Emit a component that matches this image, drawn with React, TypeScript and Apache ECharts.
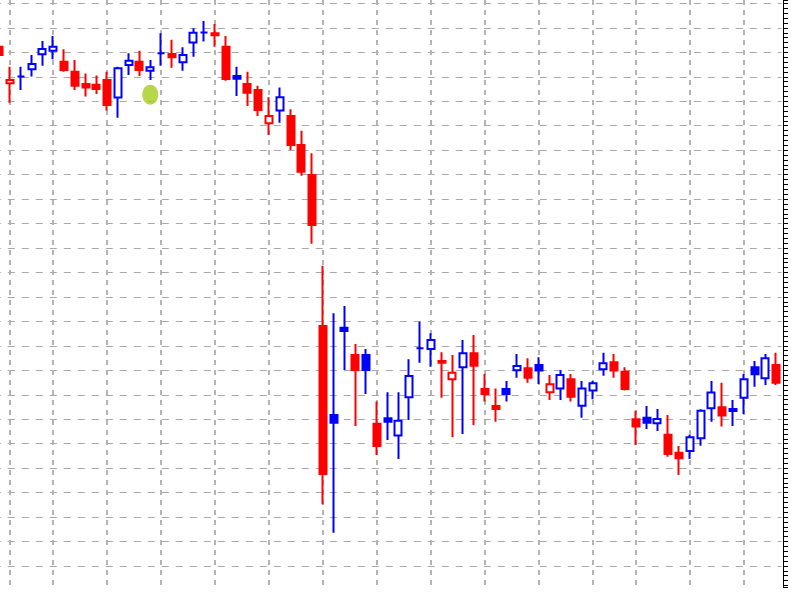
import { useEffect, useRef } from "react";
import * as echarts from "echarts";

// Daily OHLC values
const opens = [
  1612.3, 1597.4, 1600.1, 1603.1, 1609.2, 1610.7, 1606.2, 1602.1, 1597.1, 1596.7,
  1598.7, 1591.5, 1604.8, 1606.2, 1602.5, 1609.6, 1609.3, 1605.9, 1614.0, 1618.1,
  1617.8, 1612.3, 1600.3, 1597.1, 1594.6, 1581.0, 1586.2, 1584.0, 1572.1, 1559.9,
  1498.1, 1461.7, 1497.4, 1486.3, 1486.3, 1458.1, 1460.4, 1453.3, 1469.0, 1489.0,
  1488.7, 1483.8, 1476.3, 1481.2, 1487.0, 1472.4, 1465.4, 1472.4, 1480.0, 1480.8,
  1482.2, 1471.0, 1472.6, 1476.3, 1465.5, 1471.7, 1480.4, 1483.3, 1479.4, 1460.0,
  1460.6, 1458.3, 1453.6, 1446.3, 1447.0, 1452.2, 1464.5, 1464.9, 1464.2, 1468.8,
  1481.2, 1476.7, 1482.2,
];
const closes = [
  1608.9, 1598.7, 1600.1, 1605.2, 1611.4, 1612.3, 1602.8, 1596.3, 1595.6, 1595.0,
  1588.5, 1603.5, 1606.6, 1602.8, 1603.9, 1609.6, 1608.0, 1608.9, 1618.0, 1618.1,
  1617.0, 1599.1, 1599.2, 1593.5, 1586.4, 1584.0, 1591.6, 1572.1, 1561.2, 1539.4,
  1437.6, 1458.6, 1496.1, 1480.1, 1480.1, 1449.1, 1459.0, 1459.4, 1477.7, 1489.0,
  1492.4, 1483.1, 1479.0, 1487.0, 1481.9, 1470.3, 1464.2, 1470.3, 1481.8, 1477.0,
  1479.9, 1474.3, 1478.1, 1469.2, 1472.6, 1474.7, 1482.9, 1479.9, 1472.4, 1457.0,
  1458.6, 1460.1, 1445.8, 1444.0, 1452.6, 1463.5, 1470.9, 1461.5, 1463.4, 1476.3,
  1478.4, 1484.9, 1474.9,
];
const lows = [
  1608.1, 1589.4, 1594.6, 1600.1, 1604.5, 1607.2, 1602.1, 1594.6, 1591.9, 1593.0,
  1586.2, 1583.3, 1600.7, 1600.3, 1598.7, 1604.5, 1603.7, 1602.5, 1608.2, 1614.4,
  1612.3, 1598.4, 1592.2, 1588.1, 1584.0, 1576.2, 1581.2, 1570.1, 1559.5, 1531.7,
  1425.2, 1413.6, 1480.1, 1457.2, 1470.3, 1445.4, 1451.5, 1443.7, 1459.7, 1483.1,
  1481.5, 1468.8, 1452.6, 1454.0, 1457.6, 1467.2, 1459.0, 1467.2, 1477.0, 1474.9,
  1474.4, 1467.9, 1467.9, 1467.2, 1460.6, 1468.2, 1477.8, 1477.0, 1471.7, 1449.5,
  1456.0, 1455.2, 1444.7, 1437.2, 1443.7, 1449.2, 1459.0, 1457.0, 1457.2, 1462.1,
  1473.3, 1474.0, 1474.0,
];
const highs = [
  1617.9, 1604.1, 1604.1, 1608.9, 1614.6, 1616.7, 1611.3, 1606.9, 1601.4, 1600.5,
  1602.1, 1604.1, 1609.6, 1610.6, 1606.9, 1617.8, 1615.1, 1612.1, 1619.8, 1622.8,
  1621.6, 1616.7, 1604.1, 1602.1, 1596.3, 1591.6, 1595.6, 1586.7, 1577.9, 1568.7,
  1522.7, 1503.3, 1506.3, 1490.8, 1488.7, 1467.2, 1471.0, 1471.0, 1484.5, 1499.9,
  1495.1, 1487.4, 1486.3, 1492.4, 1494.4, 1478.5, 1472.6, 1475.6, 1486.7, 1484.9,
  1485.3, 1478.1, 1480.1, 1478.5, 1475.6, 1475.6, 1487.2, 1486.7, 1481.2, 1463.5,
  1465.4, 1464.2, 1461.7, 1449.1, 1453.6, 1464.1, 1475.6, 1474.9, 1467.9, 1478.5,
  1483.8, 1486.7, 1487.2,
];
// close of the session before the first one shown
const priorClose = 1612.0;
// session labels (not displayed)
const sessions = opens.map((_, i) => `${i + 1}`);
// sessions where a new week begins (vertical grid lines)
const weekStartIdx = [1, 5, 10, 15, 20, 25, 30, 35, 40, 45, 50, 55, 59, 64, 69];
// event marker: [session index, price]
const eventMarks = [[14, 1592.7]];
// price range of the axis
const priceMin = 1391.4;
const priceMax = 1631.4;

const RED = "#ff0000";
const BLUE = "#0000ff";

export default function App() {
  const ref = useRef<HTMLDivElement>(null);
  useEffect(() => {
    const chart = echarts.init(ref.current!, undefined, { renderer: "svg" });
    const candleData = opens.map((o, i) => {
      const c = closes[i];
      const prev = i === 0 ? priorClose : closes[i - 1];
      const col = c >= prev ? BLUE : RED;
      const fill = c > o ? "#ffffff" : col;
      return {
        value: [o, c, lows[i], highs[i]],
        itemStyle: {
          color: fill,
          color0: fill,
          borderColor: col,
          borderColor0: col,
          borderColorDoji: col,
        },
      };
    });
    chart.setOption({
      animation: false,
      backgroundColor: "#ffffff",
      grid: {
        left: -6.2,
        right: 18.5,
        top: 0,
        bottom: 13,
        containLabel: false,
        outerBoundsMode: "none",
      },
      xAxis: {
        type: "category",
        data: sessions,
        boundaryGap: true,
        axisLine: { show: false },
        axisTick: { show: false },
        axisLabel: { show: false },
        splitLine: {
          show: true,
          alignWithLabel: true,
          interval: (idx: number) => weekStartIdx.includes(idx),
          lineStyle: { color: "#b4b4b4", width: 2, type: [5, 5] },
        },
      },
      yAxis: {
        type: "value",
        position: "right",
        offset: 1.5,
        min: priceMin,
        max: priceMax,
        splitNumber: 24,
        axisLine: { show: true, lineStyle: { color: "#000000", width: 1 } },
        axisTick: { show: true, inside: false, length: 5, lineStyle: { color: "#000000" } },
        minorTick: { show: true, splitNumber: 5, length: 5, lineStyle: { color: "#000000" } },
        axisLabel: { show: false },
        splitLine: {
          show: true,
          showMinLine: false,
          showMaxLine: false,
          lineStyle: { color: "#a8a8a8", width: 1, type: [7, 7] },
        },
      },
      series: [
        {
          type: "candlestick",
          data: candleData,
          barWidth: 7.5,
          clip: true,
          itemStyle: { borderWidth: 2 },
        },
        {
          type: "scatter",
          data: eventMarks,
          symbol: "circle",
          symbolSize: [16, 20],
          itemStyle: { color: "#a6cc1c" },
          z: 3,
        },
      ],
    });
    return () => chart.dispose();
  }, []);
  return (
    <div
      ref={ref}
      style={{ position: "absolute", left: 0, top: 0, width: 800, height: 600, background: "#ffffff" }}
    />
  );
}
